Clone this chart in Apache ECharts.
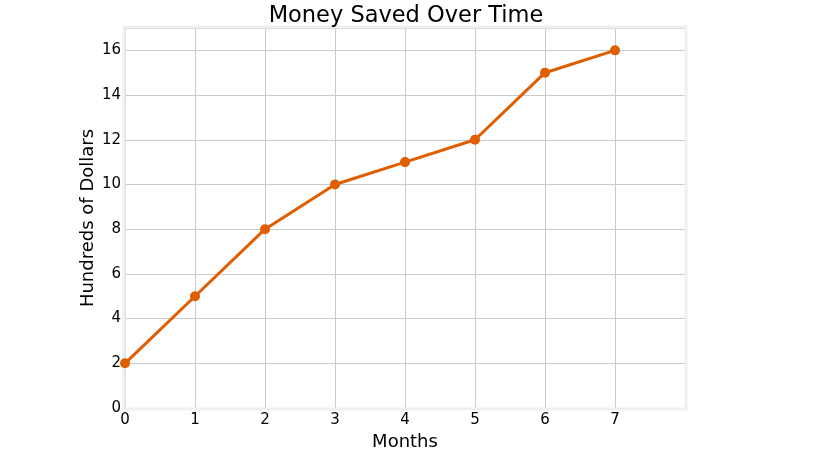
<!DOCTYPE html>
<html>
<head>
<meta charset="utf-8">
<script src="https://cdn.jsdelivr.net/npm/echarts@6/dist/echarts.min.js"></script>
<style>html,body{margin:0;padding:0;background:#fff}#c{width:813px;height:460px}</style>
</head>
<body>
<div id="c"></div>
<script>
const months = [0, 1, 2, 3, 4, 5, 6, 7];
const savings = [2, 5, 8, 10, 11, 12, 15, 16];
const chartTitle = 'Money Saved Over Time';
const xName = 'Months';
const yName = 'Hundreds of Dollars';

const chart = echarts.init(document.getElementById('c'));
const font = 'DejaVu Sans';
chart.setOption({
  animation: false,
  title: {
    text: chartTitle, left: 401, top: 0, textAlign: 'center', z: 20,
    textStyle: { fontFamily: font, fontSize: 22.5, fontWeight: 'normal', color: '#000' }
  },
  grid: {
    left: 125, top: 28, width: 560, height: 380,
    show: false
  },
  graphic: [{
    type: 'rect', z: 5, silent: true,
    shape: { x: 124, y: 27, width: 562, height: 382 },
    style: { fill: 'none', stroke: '#f0f0f0', lineWidth: 3 }
  }],
  xAxis: {
    type: 'value', min: 0, max: 8, interval: 1,
    name: xName, nameLocation: 'middle', nameGap: 25,
    nameTextStyle: { fontFamily: font, fontSize: 18, color: '#000' },
    axisLine: { show: false }, axisTick: { show: false },
    axisLabel: { fontFamily: font, fontSize: 15, color: '#000', margin: 5,
      formatter: v => (v > 7 ? '' : String(v)) },
    splitLine: { show: true, lineStyle: { color: '#cbcbcb', width: 1 } }
  },
  yAxis: {
    type: 'value', min: 0, max: 17, interval: 2,
    name: yName, nameLocation: 'middle', nameGap: 28, nameMoveOverlap: false,
    nameTextStyle: { fontFamily: font, fontSize: 18, color: '#000' },
    axisLine: { show: false }, axisTick: { show: false },
    axisLabel: { fontFamily: font, fontSize: 15, color: '#000', margin: 4,
      formatter: v => (v > 16 ? '' : String(v)) },
    splitLine: { show: true, lineStyle: { color: '#cbcbcb', width: 1 } }
  },
  series: [{
    type: 'line',
    data: months.map((m, i) => [m, savings[i]]),
    symbol: 'circle', symbolSize: 10,
    lineStyle: { color: '#e05d00', width: 3 },
    itemStyle: { color: '#e05d00' },
    z: 10
  }]
});
</script>
</body>
</html>
